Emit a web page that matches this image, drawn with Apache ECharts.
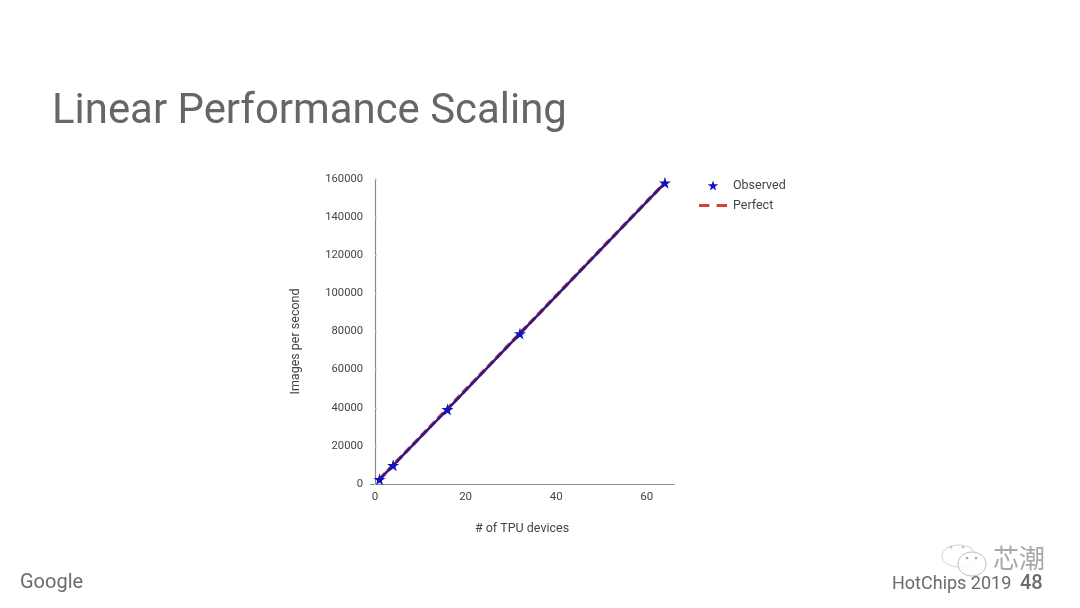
<!DOCTYPE html>
<html>
<head>
<meta charset="utf-8">
<style>
  html, body { margin: 0; padding: 0; background: #fff; }
  #chart { width: 1080px; height: 608px; }
</style>
<script src="https://cdn.jsdelivr.net/npm/echarts@6/dist/echarts.min.js"></script>
</head>
<body>
<div id="chart"></div>
<script>
const devices = [1, 4, 16, 32, 64];
const observed = [2470, 9800, 39100, 78900, 158000];
const perfect = [2470, 9880, 39520, 79040, 158080];

const starIcon = 'path://M50,0L61,35L98,35L68,57L79,91L50,70L21,91L32,57L2,35L39,35Z';
const dashIcon = 'path://M0,0H10V3H0ZM17,0H27V3H17Z';

const fontFamily = 'Roboto, sans-serif';
const labelColor = '#444444';
const chart = echarts.init(document.getElementById('chart'));

chart.setOption({
  animation: false,
  backgroundColor: '#ffffff',
  textStyle: { fontFamily },
  title: {
    text: 'Linear Performance Scaling',
    left: 52,
    top: 92,
    padding: 0,
    textStyle: { fontFamily, fontSize: 41.9, fontWeight: 'normal', color: '#666666' }
  },
  grid: { left: 375, top: 179, width: 299, height: 305 },
  legend: {
    orient: 'vertical',
    left: 699,
    top: 179,
    padding: 0,
    itemWidth: 28,
    itemHeight: 10,
    itemGap: 7,
    textStyle: { fontFamily, fontSize: 12.5, color: labelColor, padding: [0, 0, 0, 1] },
    data: [
      { name: 'Observed', icon: starIcon },
      { name: 'Perfect', icon: dashIcon }
    ]
  },
  xAxis: {
    type: 'value',
    min: 0,
    max: 66,
    interval: 20,
    name: '# of TPU devices',
    nameLocation: 'middle',
    nameGap: 38,
    nameTextStyle: { fontFamily, fontSize: 12.5, color: labelColor, padding: [0, 5, 0, 0] },
    axisLine: { lineStyle: { color: '#8a8a8a', width: 1.2 } },
    axisTick: { show: false },
    splitLine: { show: false },
    axisLabel: { showMaxLabel: false, fontFamily, fontSize: 11.5, color: labelColor, margin: 7 }
  },
  yAxis: {
    type: 'value',
    min: 0,
    max: 160000,
    interval: 20000,
    name: 'Images per second',
    nameLocation: 'middle',
    nameGap: 73,
    nameTextStyle: { fontFamily, fontSize: 12.5, color: labelColor, padding: [0, 20, 0, 0] },
    axisLine: { show: true, lineStyle: { color: '#8a8a8a', width: 1.2 } },
    axisTick: { show: true, inside: true, length: 2, lineStyle: { color: '#cccccc' } },
    splitLine: { show: false },
    axisLabel: {
      formatter: v => String(v),
      fontFamily,
      fontSize: 11.2,
      color: labelColor,
      margin: 12,
      padding: [3, 0, 0, 0]
    }
  },
  series: [
    {
      name: 'Perfect',
      type: 'line',
      data: devices.map((d, i) => [d, perfect[i]]),
      showSymbol: false,
      itemStyle: { color: '#d8403a' },
      lineStyle: { color: '#d8403a', width: 3.5, type: [8, 4] },
      z: 2
    },
    {
      name: 'Observed',
      type: 'line',
      data: devices.map((d, i) => [d, observed[i]]),
      symbol: starIcon,
      symbolSize: 12,
      itemStyle: { color: '#1212c0' },
      lineStyle: { color: '#2e1a86', width: 2.5 },
      z: 3
    }
  ],
  graphic: [
    // small stub of the y axis at zero
    { type: 'line', shape: { x1: 370, y1: 484.5, x2: 375, y2: 484.5 }, style: { stroke: '#8a8a8a', lineWidth: 1 } },
    { type: 'text', left: 20, top: 573, style: { text: 'Google', font: '20px Roboto, sans-serif', fill: '#6b6b6b' } },
    { type: 'text', left: 892, top: 575, style: { text: 'HotChips 2019', font: '18px Roboto, sans-serif', fill: '#6b6b6b' } },
    { type: 'text', left: 1020, top: 574, style: { text: '48', font: '500 20px Roboto, sans-serif', fill: '#6b6b6b' } },
    // watermark
    { type: 'text', left: 993, top: 545, style: { text: '芯潮', font: '26px "Noto Sans CJK SC"', fill: '#a8a8a8' } },
    { type: 'ellipse', shape: { cx: 959, cy: 556, rx: 17, ry: 11 }, style: { fill: 'rgba(255,255,255,0.6)', stroke: '#d4d4d4', lineWidth: 1 } },
    { type: 'ellipse', shape: { cx: 972, cy: 564, rx: 14, ry: 12 }, style: { fill: 'rgba(255,255,255,0.8)', stroke: '#bdbdbd', lineWidth: 1 } },
    { type: 'circle', shape: { cx: 951, cy: 547, r: 1.5 }, style: { fill: '#c4c4c4' } },
    { type: 'circle', shape: { cx: 963, cy: 547, r: 1.5 }, style: { fill: '#c4c4c4' } },
    { type: 'circle', shape: { cx: 967, cy: 558, r: 1.3 }, style: { fill: '#a8a8a8' } },
    { type: 'circle', shape: { cx: 976, cy: 558, r: 1.3 }, style: { fill: '#a8a8a8' } }
  ]
});
</script>
</body>
</html>
